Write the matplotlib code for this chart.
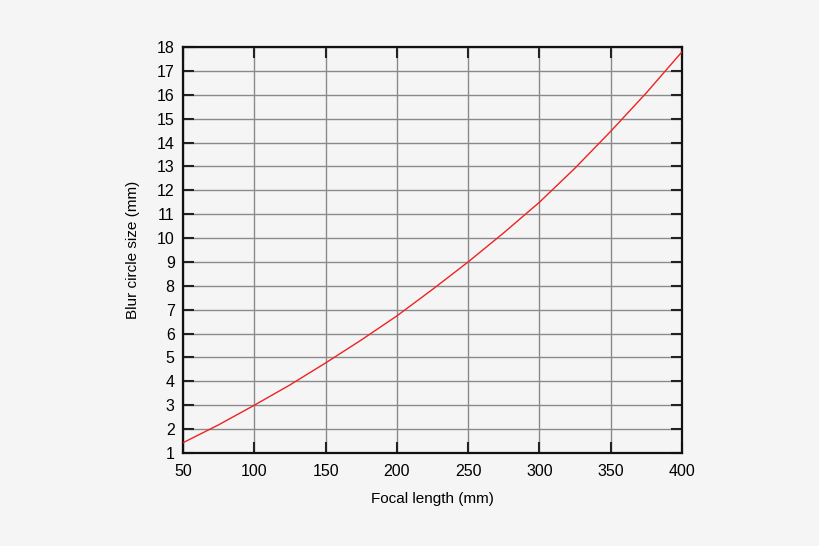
import matplotlib
matplotlib.use("Agg")
from matplotlib import pyplot as plt

focal_mm = [50, 75, 100, 125, 150, 175, 200, 225, 250, 275, 300, 325, 350, 375, 400]
blur_mm = [1.43, 2.18, 3.0, 3.85, 4.77, 5.73, 6.74, 7.85, 9.0, 10.22, 11.5, 12.93, 14.47, 16.08, 17.8]

x_ticks = [50, 100, 150, 200, 250, 300, 350, 400]
y_ticks = list(range(1, 19))

plt.rcParams["font.family"] = ["Liberation Sans", "DejaVu Sans"]
bg = "#f5f5f5"

fig = plt.figure(figsize=(8.2, 5.46), dpi=100, facecolor=bg)
ax = fig.add_axes([183 / 820, 1 - 453 / 546, 499 / 820, 406 / 546], facecolor=bg)

ax.plot(focal_mm, blur_mm, color="#ee2222", linewidth=1.0, zorder=3)

ax.set_xlim(50, 400)
ax.set_ylim(1, 18)
ax.set_xticks(x_ticks)
ax.set_yticks(y_ticks)
ax.grid(True, color="#8a8a8a", linewidth=1.0, zorder=1)
ax.set_axisbelow(True)

ax.tick_params(direction="in", length=8, width=1.5, top=True, right=True,
               labelsize=11.5, color="#222222")
ax.tick_params(axis="x", pad=8)
ax.tick_params(axis="y", pad=6)
for s in ax.spines.values():
    s.set_linewidth(1.6)
    s.set_color("#111111")

ax.set_xlabel("Focal length (mm)", fontsize=11, labelpad=9)
ax.set_ylabel("Blur circle size (mm)", fontsize=11, labelpad=12)

fig.savefig("out.png", dpi=100, facecolor=bg)
